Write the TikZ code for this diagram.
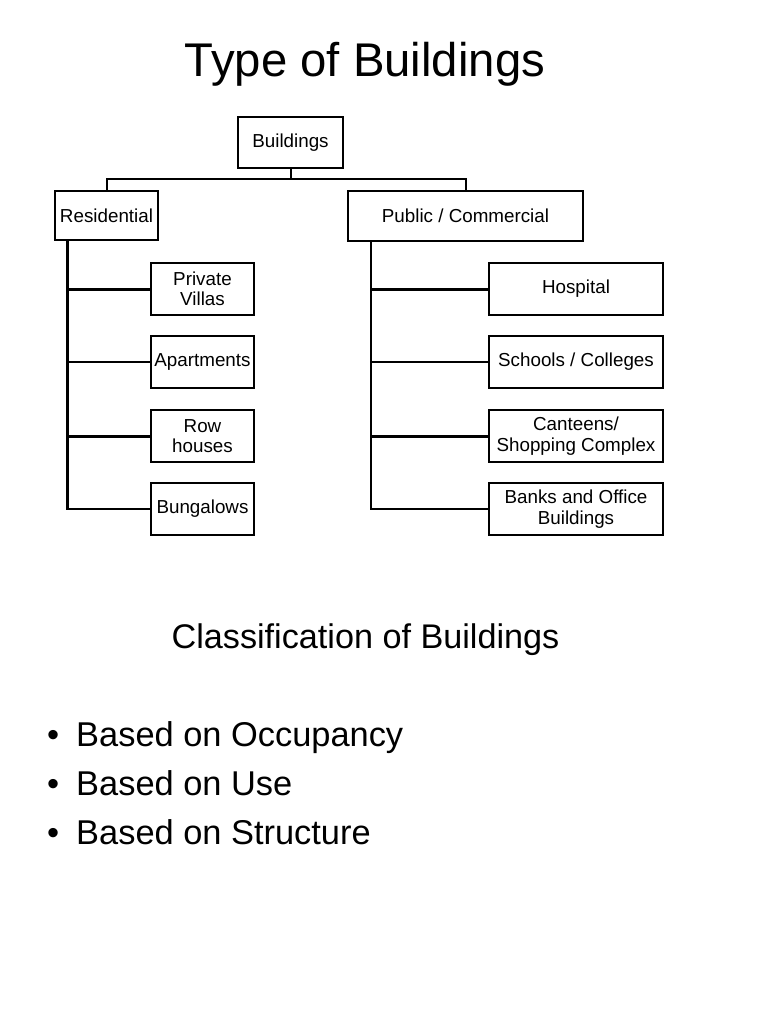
\documentclass[tikz,border=0pt]{standalone}
\usepackage{fontspec}
\setmainfont{Liberation Sans}
\usetikzlibrary{positioning}

\begin{document}
\begin{tikzpicture}[
    x=1pt, y=-1pt,
    %% -- Node styles ------------------------------------------------------
    %%
    %% box: plain rectangle for one kind of building
    box/.style={
        draw,
        line width=2pt,
        minimum height=52pt,
        inner sep=1pt,
        outer sep=0pt,
        align=center,
        font=\fontsize{18.8}{20.5}\selectfont,
    },
    leftbox/.style={box, minimum width=103pt},     % residential children
    rightbox/.style={box, minimum width=174pt},    % public children
    %% -- Connector styles -------------------------------------------------
    link/.style={line width=2pt},
    heavylink/.style={line width=3pt},
    %% -- Text styles ------------------------------------------------------
    title/.style={anchor=base, inner sep=0pt, font=\fontsize{47.3}{50}\selectfont},
    subtitle/.style={anchor=base, inner sep=0pt, font=\fontsize{34.2}{36}\selectfont},
    item/.style={anchor=base west, inner sep=0pt, font=\fontsize{34.4}{36}\selectfont},
]
\useasboundingbox (0,0) rectangle (768,1024);

%% -- Headings -------------------------------------------------------------

\node[title] (typetitle) at (365,77) {Type of Buildings};

%% -- Place nodes here -----------------------------------------------------

\node[box, minimum width=105pt, minimum height=51pt] (buildings) at (290.5,142.5) {Buildings};
\node[box, minimum width=103pt, minimum height=49pt] (residential) at (106.5,215.5) {Residential};
\node[box, minimum width=235pt, minimum height=50pt] (public) at (465.5,216) {Public / Commercial};

\node[leftbox] (villas) at (202.5,289) {Private\\Villas};
\node[leftbox, below=21pt of villas] (apartments) {Apartments};
\node[leftbox, below=22pt of apartments] (rowhouses) {Row\\houses};
\node[leftbox, below=21pt of rowhouses] (bungalows) {Bungalows};

\node[rightbox] (hospital) at (576,289) {Hospital};
\node[rightbox, below=21pt of hospital] (schools) {Schools / Colleges};
\node[rightbox, below=22pt of schools] (canteens) {Canteens/\\Shopping Complex};
\node[rightbox, below=21pt of canteens] (banks) {Banks and Office\\Buildings};

%% -- Draw edges here ------------------------------------------------------

%% top level
\draw[link] (buildings.south) -- ++(0,11) coordinate (split);
\draw[link] (split) -| (residential.north);
\draw[link] (split) -| (public.north);

%% residential side
\coordinate (restrunk) at ([xshift=12pt]residential.south west);
\draw[heavylink] (restrunk) -- ([yshift=-1pt]restrunk |- bungalows.west);
\draw[heavylink] (restrunk |- villas.west) -- (villas.west);
\draw[link] (restrunk |- apartments.west) -- (apartments.west);
\draw[heavylink] (restrunk |- rowhouses.west) -- (rowhouses.west);
\draw[link] (restrunk |- bungalows.west) -- (bungalows.west);

%% public side
\coordinate (pubtrunk) at ([xshift=23pt]public.south west);
\draw[link] (pubtrunk) |- (banks.west);
\draw[heavylink] (pubtrunk |- hospital.west) -- (hospital.west);
\draw[link] (pubtrunk |- schools.west) -- (schools.west);
\draw[heavylink] (pubtrunk |- canteens.west) -- (canteens.west);

%% -- Classification list --------------------------------------------------

\node[subtitle] (classtitle) at (365.5,648) {Classification of Buildings};
\foreach \txt [count=\i] in {Based on Occupancy, Based on Use, Based on Structure}
  \node[item] (item\i) at (47,{746+49*(\i-1)}) {\textbullet\hspace{17pt}\txt};

\end{tikzpicture}
\end{document}
